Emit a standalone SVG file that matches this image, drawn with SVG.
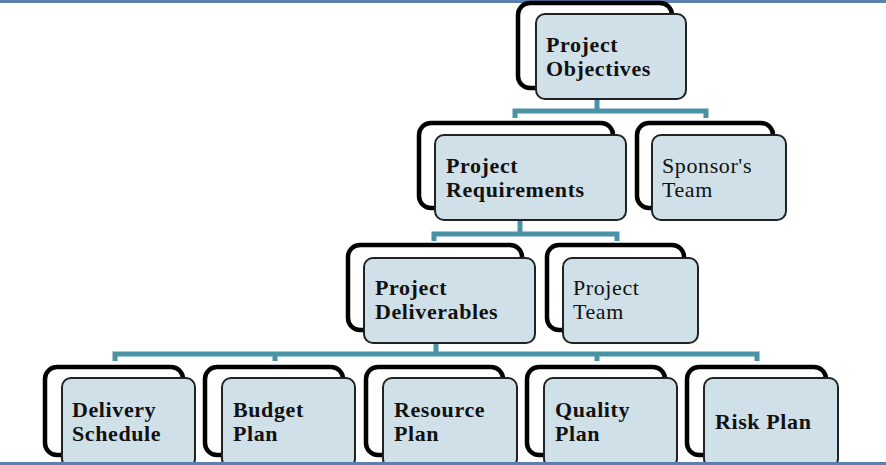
<svg xmlns="http://www.w3.org/2000/svg" width="886" height="465" viewBox="0 0 886 465">
<style>
.bk{fill:#fff;stroke:#000;stroke-width:4.5}
.fr{fill:#d0e0e8;stroke:#222;stroke-width:2}
.t{font-family:"Liberation Serif",serif;font-size:22px;letter-spacing:0.6px;fill:#111}
.b{font-weight:bold}
.c{fill:none;stroke:#4a93a6;stroke-width:5}
</style>
<rect width="886" height="465" fill="#fff"/>
<line x1="0" y1="1.5" x2="886" y2="1.5" stroke="#5b80b0" stroke-width="3"/>
<g id="connectors">
<path class="c" d="M597 99V111M515 118V111H706V118"/>
<path class="c" d="M520 220V234M434 241V234H617V241"/>
<path class="c" d="M436 343V354M115 361V354H757V361M275 354V361M597 354V361"/>
</g>
<g id="n1"><rect class="bk" x="518" y="3" width="154" height="85" rx="12"/><rect class="fr" x="536" y="14" width="150" height="85" rx="9"/><text class="t b" x="546" y="52">Project</text><text class="t b" x="546" y="76">Objectives</text></g>
<g id="n2"><rect class="bk" x="419" y="123" width="194" height="85" rx="12"/><rect class="fr" x="435" y="135" width="191" height="85" rx="9"/><text class="t b" x="446" y="173">Project</text><text class="t b" x="446" y="197">Requirements</text></g>
<g id="n3"><rect class="bk" x="637" y="123" width="136" height="85" rx="12"/><rect class="fr" x="652" y="135" width="134" height="85" rx="9"/><text class="t" x="662" y="173">Sponsor's</text><text class="t" x="662" y="197">Team</text></g>
<g id="n4"><rect class="bk" x="348" y="245" width="174" height="85" rx="12"/><rect class="fr" x="364" y="258" width="171" height="85" rx="9"/><text class="t b" x="375" y="295">Project</text><text class="t b" x="375" y="319">Deliverables</text></g>
<g id="n5"><rect class="bk" x="547" y="245" width="137" height="85" rx="12"/><rect class="fr" x="563" y="258" width="135" height="85" rx="9"/><text class="t" x="573" y="295">Project</text><text class="t" x="573" y="319">Team</text></g>
<g id="n6"><rect class="bk" x="45" y="367" width="138" height="88" rx="12"/><rect class="fr" x="62" y="378" width="133" height="90" rx="9"/><text class="t b" x="72" y="417">Delivery</text><text class="t b" x="72" y="441">Schedule</text></g>
<g id="n7"><rect class="bk" x="205" y="367" width="138" height="88" rx="12"/><rect class="fr" x="222" y="378" width="133" height="90" rx="9"/><text class="t b" x="233" y="417">Budget</text><text class="t b" x="233" y="441">Plan</text></g>
<g id="n8"><rect class="bk" x="366" y="367" width="137" height="88" rx="12"/><rect class="fr" x="383" y="378" width="134" height="90" rx="9"/><text class="t b" x="394" y="417">Resource</text><text class="t b" x="394" y="441">Plan</text></g>
<g id="n9"><rect class="bk" x="527" y="367" width="138" height="88" rx="12"/><rect class="fr" x="544" y="378" width="133" height="90" rx="9"/><text class="t b" x="555" y="417">Quality</text><text class="t b" x="555" y="441">Plan</text></g>
<g id="n10"><rect class="bk" x="687" y="367" width="139" height="88" rx="12"/><rect class="fr" x="704" y="378" width="134" height="90" rx="9"/><text class="t b" x="715" y="429">Risk Plan</text></g>
<line x1="0" y1="463.5" x2="886" y2="463.5" stroke="#5b80b0" stroke-width="3"/>
</svg>
